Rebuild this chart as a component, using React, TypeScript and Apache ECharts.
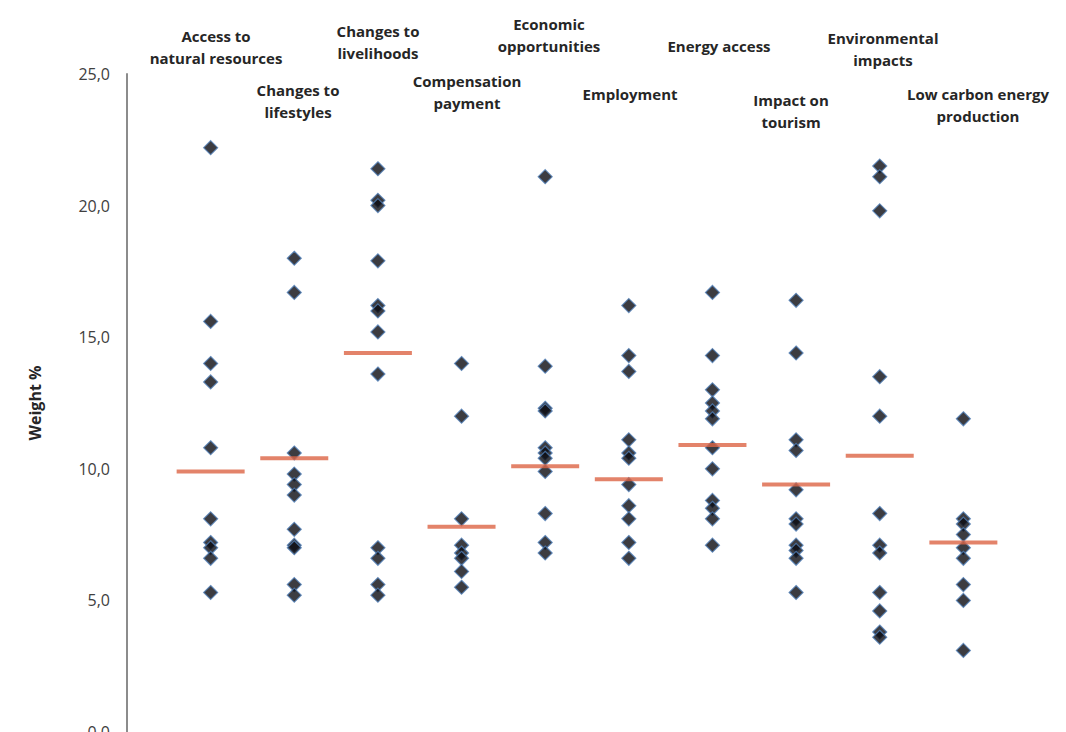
import React, { useEffect, useRef } from "react";
import * as echarts from "echarts";

// Category names, drawn as headings above each column
const categories = [
  "Access to\nnatural resources",
  "Changes to\nlifestyles",
  "Changes to\nlivelihoods",
  "Compensation\npayment",
  "Economic\nopportunities",
  "Employment",
  "Energy access",
  "Impact on\ntourism",
  "Environmental\nimpacts",
  "Low carbon energy\nproduction",
];

// Individual weights (%) per category
const accessToNaturalResources = [22.2, 15.6, 14.0, 13.3, 10.8, 8.1, 7.2, 7.0, 6.6, 5.3];
const changesToLifestyles = [18.0, 16.7, 10.6, 9.8, 9.4, 9.0, 7.7, 7.1, 7.0, 5.6, 5.2];
const changesToLivelihoods = [21.4, 20.2, 20.0, 17.9, 16.2, 16.0, 15.2, 13.6, 7.0, 6.6, 5.6, 5.2];
const compensationPayment = [14.0, 12.0, 8.1, 7.1, 6.8, 6.6, 6.1, 5.5];
const economicOpportunities = [21.1, 13.9, 12.3, 12.2, 10.8, 10.6, 10.4, 9.9, 8.3, 7.2, 6.8];
const employment = [16.2, 14.3, 13.7, 11.1, 10.6, 10.4, 9.4, 8.6, 8.1, 7.2, 6.6];
const energyAccess = [16.7, 14.3, 13.0, 12.5, 12.2, 11.9, 10.8, 10.0, 8.8, 8.5, 8.1, 7.1];
const impactOnTourism = [16.4, 14.4, 11.1, 10.7, 9.2, 8.1, 7.9, 7.1, 6.9, 6.6, 5.3];
const environmentalImpacts = [21.5, 21.1, 19.8, 13.5, 12.0, 8.3, 7.1, 6.8, 5.3, 4.6, 3.8, 3.6];
const lowCarbonEnergyProduction = [11.9, 8.1, 7.9, 7.5, 7.0, 6.6, 5.6, 5.0, 3.1];

// Mean weight per category (red bars)
const meanWeights = [9.9, 10.4, 14.4, 7.8, 10.1, 9.6, 10.9, 9.4, 10.5, 7.2];

// Y axis ticks
const yTicks = [0, 5, 10, 15, 20, 25];

const weightsByCategory = [
  accessToNaturalResources,
  changesToLifestyles,
  changesToLivelihoods,
  compensationPayment,
  economicOpportunities,
  employment,
  energyAccess,
  impactOnTourism,
  environmentalImpacts,
  lowCarbonEnergyProduction,
];

// Heading placement (x centre, y centre of the text block) in pixels
const headingLayout: [number, number][] = [
  [216, 47],
  [298, 101],
  [378, 42],
  [467, 92],
  [549, 35],
  [630, 94],
  [719, 46],
  [791, 111],
  [883, 49],
  [978, 105],
];

export default function App() {
  const ref = useRef<HTMLDivElement>(null);

  useEffect(() => {
    if (!ref.current) return;
    const chart = echarts.init(ref.current, undefined, { renderer: "svg" });

    const points: [number, number][] = [];
    weightsByCategory.forEach((vals, i) => {
      vals.forEach((v) => points.push([i + 1, v]));
    });
    const means = meanWeights.map((m, i) => [i + 1, m]);

    chart.setOption({
      animation: false,
      backgroundColor: "#ffffff",
      grid: { left: 127, right: 19, top: 74, bottom: 1 },
      xAxis: {
        type: "value",
        min: 0,
        max: 11,
        show: false,
      },
      yAxis: {
        type: "value",
        min: yTicks[0],
        max: yTicks[yTicks.length - 1],
        interval: 5,
        name: "Weight %",
        nameLocation: "middle",
        nameGap: 84,
        nameRotate: 90,
        nameTextStyle: {
          fontFamily: "Open Sans",
          fontWeight: "bold",
          fontSize: 16,
          color: "#262626",
        },
        axisLine: { show: true, lineStyle: { color: "#8c8c8c", width: 2 } },
        axisTick: { show: false },
        splitLine: { show: false },
        axisLabel: {
          margin: 17,
          fontFamily: "Open Sans",
          fontSize: 16,
          color: "#404040",
          formatter: (v: number) => v.toFixed(1).replace(".", ","),
        },
      },
      series: [
        {
          type: "scatter",
          data: points,
          symbol: "diamond",
          symbolSize: 14,
          itemStyle: {
            color: "#0b0b12",
            borderColor: "#4f7db5",
            borderWidth: 1.2,
          },
          z: 2,
        },
        {
          type: "scatter",
          data: means,
          symbol: "rect",
          symbolSize: [68, 4],
          itemStyle: { color: "#dc6445" },
          z: 3,
        },
      ],
      graphic: categories.map((name, i) => ({
        type: "text",
        x: headingLayout[i][0],
        y: headingLayout[i][1],
        style: {
          text: name,
          textAlign: "center",
          textVerticalAlign: "middle",
          fontFamily: "Open Sans",
          fontWeight: "bold",
          fontSize: 15,
          lineHeight: 22,
          fill: "#262626",
        },
      })),
    });

    return () => chart.dispose();
  }, []);

  return (
    <div
      ref={ref}
      style={{ position: "fixed", left: 0, top: 0, width: 1066, height: 740 }}
    />
  );
}
